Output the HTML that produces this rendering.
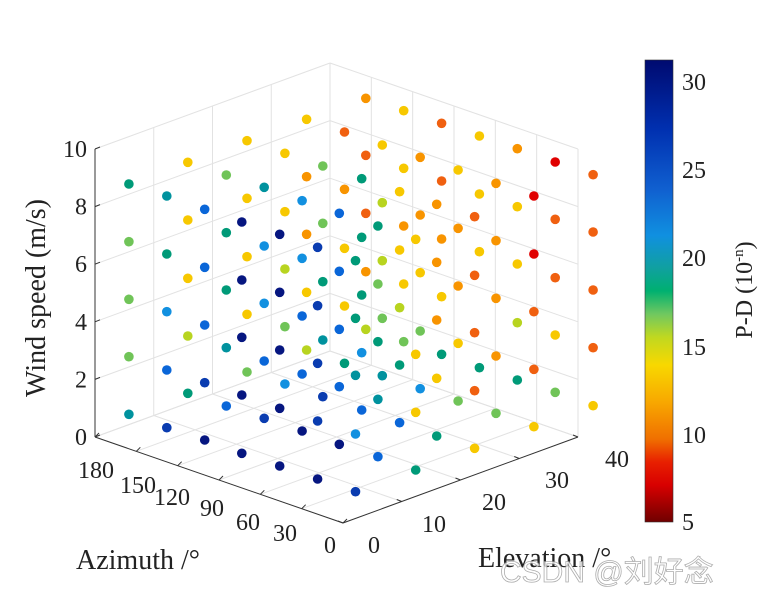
<!DOCTYPE html>
<html><head><meta charset="utf-8"><style>
html,body{margin:0;padding:0;background:#fff;}
svg{display:block;font-family:"Liberation Serif",serif;}
</style></head><body>
<svg id="s" width="768" height="594" viewBox="0 0 768 594" xmlns="http://www.w3.org/2000/svg">
<defs>
<linearGradient id="cb" x1="0" y1="0" x2="0" y2="1">
<stop offset="0" stop-color="#000a70"/>
<stop offset="0.15" stop-color="#0030b0"/>
<stop offset="0.28" stop-color="#1060d0"/>
<stop offset="0.38" stop-color="#1090e0"/>
<stop offset="0.45" stop-color="#10a0a0"/>
<stop offset="0.5" stop-color="#00b070"/>
<stop offset="0.55" stop-color="#70c860"/>
<stop offset="0.6" stop-color="#c0d820"/>
<stop offset="0.66" stop-color="#f8d800"/>
<stop offset="0.74" stop-color="#f8a800"/>
<stop offset="0.82" stop-color="#f07000"/>
<stop offset="0.87" stop-color="#e82000"/>
<stop offset="0.92" stop-color="#d80000"/>
<stop offset="1" stop-color="#700000"/>
</linearGradient>
</defs>
<g id="grid" stroke="#e2e2e2" stroke-width="1" fill="none"></g>
<g id="axes" stroke="#333" stroke-width="1" fill="none"></g>
<g id="dots"></g>
<g id="labels" font-size="24" fill="#222"></g>
<rect x="645" y="60" width="28" height="462" fill="url(#cb)" stroke="#333" stroke-width="0.6"/>
<g font-size="24" fill="#222">
<text x="682" y="90">30</text>
<text x="682" y="178">25</text>
<text x="682" y="266">20</text>
<text x="682" y="355">15</text>
<text x="682" y="443">10</text>
<text x="682" y="530">5</text>
<text transform="translate(752,290) rotate(-90)" text-anchor="middle">P-D (10<tspan font-size="15" dy="-9">-n</tspan><tspan dy="9">)</tspan></text>
<text transform="translate(45,298) rotate(-90)" text-anchor="middle" font-size="28">Wind speed (m/s)</text>
<text x="76" y="569" font-size="28">Azimuth /°</text>
<text x="478" y="567" font-size="28">Elevation /°</text>
</g>
<text x="500" y="582" font-size="30" fill="#ffffff" stroke="#999" stroke-width="0.8" opacity="0.8" font-family="'Liberation Sans','Noto Sans CJK SC',sans-serif">CSDN @刘好念</text>
</svg>
<script>
var NS="http://www.w3.org/2000/svg";
function el(p,t,a){var e=document.createElementNS(NS,t);for(var k in a)e.setAttribute(k,a[k]);p.appendChild(e);return e;}
var O=[343,523];
function P(az,elv,z){return [O[0]-248*az/180+235*elv/40, O[1]-86*az/180-86*elv/40-28.8*z];}
var g=document.getElementById('grid'),ax=document.getElementById('axes'),lb=document.getElementById('labels');
function L(p,a,b){el(p,'line',{x1:a[0],y1:a[1],x2:b[0],y2:b[1]});}
for(var z=0;z<=10;z+=2)L(g,P(180,0,z),P(180,40,z));
for(var e=0;e<=40;e+=10)L(g,P(180,e,0),P(180,e,10));
for(var z=0;z<=10;z+=2)L(g,P(0,40,z),P(180,40,z));
for(var a=0;a<=180;a+=30)L(g,P(a,40,0),P(a,40,10));
for(var a=0;a<=180;a+=30)L(g,P(a,0,0),P(a,40,0));
for(var e=0;e<=40;e+=10)L(g,P(0,e,0),P(180,e,0));
L(ax,P(180,0,0),P(180,0,10));
L(ax,P(0,0,0),P(180,0,0));
L(ax,P(0,0,0),P(0,40,0));
for(var z=0;z<=10;z+=2){var p=P(180,0,z);L(ax,p,[p[0]+5,p[1]-2]);el(lb,'text',{x:p[0]-8,y:p[1]+8,'text-anchor':'end'}).textContent=z;}
var azl={180:[96,478],150:[138,493],120:[172,505],90:[212,516],60:[248,530],30:[285,541],0:[330,553]};
for(var a=0;a<=180;a+=30){var p=P(a,0,0);L(ax,p,[p[0]+4,p[1]-4]);var q=azl[a];el(lb,'text',{x:q[0],y:q[1],'text-anchor':'middle'}).textContent=a;}
var ell={0:[374,553],10:[434,532],20:[494,510],30:[557,488],40:[617,467]};
for(var e=0;e<=40;e+=10){var p=P(0,e,0);L(ax,p,[p[0]-5,p[1]-2]);var q=ell[e];el(lb,'text',{x:q[0],y:q[1],'text-anchor':'middle'}).textContent=e;}
var C={G:'#009a78',T:'#00929e',LG:'#70c458',Y:'#f7c800',O:'#f89400',DO:'#f06010',R:'#e00000',B:'#0a66d8',C:'#1290e0',DB:'#0a3cb0',N:'#061680',YG:'#b8d420'};
var d=[[830,145,'O'],[940,182,'Y'],[1050,220,'DO'],[1160,258,'Y'],[1270,296,'O'],[1380,336,'R'],[1490,374,'DO'],
[658,208,'Y'],[768,246,'DO'],[485,272,'Y'],[595,310,'Y'],[705,348,'LG'],
[313,337,'Y'],[425,375,'LG'],[535,412,'T'],[645,452,'C'],[753,490,'B'],
[142,402,'G'],[252,438,'T'],[362,478,'B'],[470,516,'N'],[580,553,'N'],[690,592,'DB'],[800,632,'G'],
[878,285,'Y'],[988,322,'O'],[1098,360,'Y'],[1208,400,'O'],[1318,438,'R'],[1490,546,'DO'],
[830,316,'DO'],[940,355,'Y'],[1050,393,'DO'],[1160,432,'Y'],[1270,470,'Y'],[1380,508,'DO'],
[768,418,'O'],[818,386,'G'],[878,458,'YG'],[928,425,'Y'],[1036,463,'O'],[1146,500,'DO'],[1208,572,'O'],
[830,490,'DO'],[865,528,'G'],[940,528,'O'],[988,495,'O'],[1098,535,'O'],[1050,567,'O'],[1160,605,'Y'],[1318,612,'R'],[1380,683,'DO'],[1490,720,'DO'],
[818,562,'G'],[768,595,'Y'],[928,600,'Y'],[878,632,'YG'],[1036,637,'O'],[1146,676,'DO'],[1270,642,'Y'],[975,568,'Y'],
[830,665,'O'],[865,702,'LG'],[940,702,'Y'],[988,668,'Y'],[1098,708,'O'],[1208,745,'O'],[1318,785,'DO'],[1490,893,'DO'],[1380,855,'Y'],[1270,818,'YG'],
[1050,740,'Y'],[818,735,'G'],[768,768,'Y'],[928,773,'YG'],[878,805,'LG'],[800,805,'G'],[830,838,'YG'],[865,875,'G'],[940,875,'LG'],[988,843,'LG'],[1036,810,'O'],[975,913,'Y'],[1050,913,'G'],[1098,880,'Y'],[1146,848,'DO'],[1208,918,'O'],[1160,953,'G'],[1270,990,'G'],[1318,958,'DO'],[1380,1027,'LG'],[1490,1067,'Y'],
[928,945,'G'],[1036,985,'Y'],[1146,1022,'DO'],[988,1016,'C'],[1098,1053,'LG'],[1208,1090,'LG'],[1318,1130,'Y'],[1146,1195,'Y'],[1036,1158,'G'],[975,1260,'G'],[975,1087,'Y'],[928,1118,'B'],[878,977,'T'],[865,1048,'T'],[818,1080,'B'],[800,976,'T'],[768,940,'G'],[818,908,'C'],[753,838,'B'],[705,870,'T'],[753,1010,'B'],[800,1152,'C'],[865,1220,'B'],[800,1325,'DB'],[690,1287,'N'],[753,1183,'N'],[690,1113,'DB'],[645,1143,'N'],[580,1248,'N'],[470,1210,'N'],[362,1170,'N'],[252,1133,'DB'],[142,1093,'T'],
[142,575,'LG'],[142,748,'LG'],[142,920,'LG'],[252,612,'G'],[252,785,'C'],[252,960,'B'],[313,510,'Y'],[313,685,'Y'],[313,858,'YG'],[313,1030,'G'],[362,652,'B'],[362,825,'B'],[362,998,'DB'],[425,548,'G'],[425,720,'G'],[425,893,'T'],[425,1068,'B'],[470,690,'N'],[470,862,'N'],[470,1035,'N'],[485,445,'Y'],[485,620,'Y'],[485,793,'Y'],[485,966,'LG'],[535,588,'C'],[535,760,'C'],[535,933,'B'],[535,1105,'DB'],[580,727,'N'],[580,900,'N'],[580,1075,'N'],[595,485,'Y'],[595,657,'YG'],[595,830,'LG'],[595,1002,'C'],[645,625,'C'],[645,798,'B'],[645,972,'B'],[658,380,'O'],[658,553,'O'],[658,727,'Y'],[658,900,'YG'],[690,767,'DB'],[690,940,'DB'],[705,520,'LG'],[705,695,'G'],[705,1040,'DB'],[753,664,'B']];
var dg=document.getElementById('dots');
d.forEach(function(p){el(dg,'circle',{cx:(p[0]/2.904+80).toFixed(1),cy:(p[1]/3+50).toFixed(1),r:4.8,fill:C[p[2]]});});
</script>
</body></html>
